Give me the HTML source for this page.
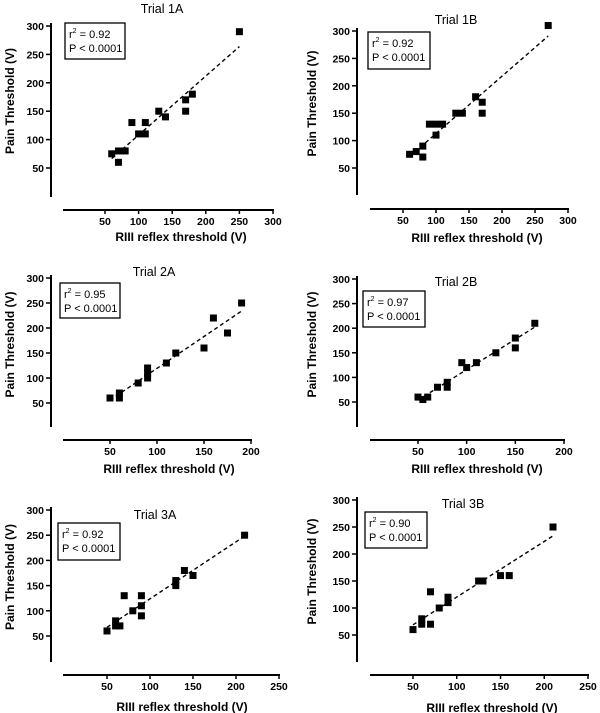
<!DOCTYPE html>
<html><head><meta charset="utf-8">
<style>
html,body{margin:0;padding:0;background:#fff;}
svg{display:block;font-family:"Liberation Sans",Arial,sans-serif;}
</style></head>
<body>
<svg id="fig" width="600" height="713" viewBox="0 0 600 713" xmlns="http://www.w3.org/2000/svg"></svg>
<script>
// ---- data ----
const names = ["Trial 1A","Trial 1B","Trial 2A","Trial 2B","Trial 3A","Trial 3B"];
const r2Labels = ["0.92","0.92","0.95","0.97","0.92","0.90"];
const xs1A = [60,70,70,80,90,100,110,110,130,140,170,170,180,250];
const ys1A = [75,80,60,80,130,110,110,130,150,140,170,150,180,290];
const xs1B = [60,70,80,80,90,100,110,100,130,140,160,170,170,270];
const ys1B = [75,80,70,90,130,130,130,110,150,150,180,170,150,310];
const xs2A = [50,60,60,80,90,90,90,110,120,150,160,175,190];
const ys2A = [60,60,70,90,100,110,120,130,150,160,220,190,250];
const xs2B = [50,55,60,70,80,80,95,100,110,130,150,150,170];
const ys2B = [60,55,60,80,80,90,130,120,130,150,180,160,210];
const xs3A = [50,60,60,65,70,80,90,90,90,130,130,140,150,210];
const ys3A = [60,80,70,70,130,100,110,130,90,150,160,180,170,250];
const xs3B = [50,60,60,70,70,80,90,90,125,130,150,160,210];
const ys3B = [60,80,70,130,70,100,110,120,150,150,160,160,250];
const xTicks1 = [50,100,150,200,250,300];
const xTicks2 = [50,100,150,200];
const xTicks3 = [50,100,150,200,250];
const yTicks = [50,100,150,200,250,300];

// ---- layout (pixels) ----
const L = [
 {ax:51, y50:168, y300:26, yBot:197, xAxY:210, xa0:63, xa1:273, xp50:105, xpMax:273, xMax:300, tx:162, ty:13, bx:65,by:23,bw:60,bh:36, xtx:181, xty:241, ylx:14, xs:xs1A, ys:ys1A, ticks:xTicks1},
 {ax:357, y50:168, y300:31, yBot:195, xAxY:209, xa0:370, xa1:568, xp50:403, xpMax:568, xMax:300, tx:456, ty:24, bx:368,by:32,bw:62,bh:37, xtx:477, xty:242, ylx:316, xs:xs1B, ys:ys1B, ticks:xTicks1},
 {ax:51, y50:403, y300:278, yBot:427, xAxY:440, xa0:63, xa1:251, xp50:110, xpMax:251, xMax:200, tx:154, ty:276, bx:60,by:283,bw:60,bh:35, xtx:169, xty:473, ylx:14, xs:xs2A, ys:ys2A, ticks:xTicks2},
 {ax:357, y50:402, y300:279, yBot:427, xAxY:440, xa0:370, xa1:564, xp50:418, xpMax:564, xMax:200, tx:456, ty:286, bx:363,by:291,bw:62,bh:36, xtx:477, xty:473, ylx:316, xs:xs2B, ys:ys2B, ticks:xTicks2},
 {ax:51, y50:636, y300:510, yBot:662, xAxY:675, xa0:63, xa1:279, xp50:107, xpMax:279, xMax:250, tx:155, ty:519, bx:58,by:523,bw:62,bh:37, xtx:182, xty:711, ylx:14, xs:xs3A, ys:ys3A, ticks:xTicks3},
 {ax:357, y50:635, y300:500, yBot:662, xAxY:675, xa0:370, xa1:588, xp50:413, xpMax:588, xMax:250, tx:463, ty:508, bx:365,by:512,bw:62,bh:36, xtx:492, xty:712, ylx:316, xs:xs3B, ys:ys3B, ticks:xTicks3}
];
const NS="http://www.w3.org/2000/svg";
const svg=document.getElementById('fig');
function mk(tag,attrs,parent){const e=document.createElementNS(NS,tag);for(const k in attrs)e.setAttribute(k,attrs[k]);(parent||svg).appendChild(e);return e;}

L.forEach((p,i)=>{
  const g=mk('g',{});
  
  
  const xS=v=>p.xp50+(v-50)*(p.xpMax-p.xp50)/(p.xMax-50);
  const yS=v=>p.y50+(v-50)*(p.y300-p.y50)/250;
  // title
  const t=mk('text',{x:p.tx,y:p.ty,'text-anchor':'middle','font-size':12.5},g);t.textContent=names[i];
  
  
  // y axis
  const ya=mk('line',{x1:p.ax,y1:p.y300-3,x2:p.ax,y2:p.yBot,stroke:'#000','stroke-width':2},g);
  
  
  yTicks.forEach(v=>{
    const y=yS(v);
    mk('line',{x1:p.ax-5,y1:y,x2:p.ax,y2:y,stroke:'#000','stroke-width':1.5},g);
    const tl=mk('text',{x:p.ax-7,y:y+4,'text-anchor':'end','font-size':10.5,'font-weight':'bold'},g);tl.textContent=v;
    
    
  });
  // x axis
  const xa=mk('line',{x1:p.xa0,y1:p.xAxY,x2:p.xa1+1,y2:p.xAxY,stroke:'#000','stroke-width':2},g);
  
  
  p.ticks.forEach(v=>{
    const x=xS(v);
    mk('line',{x1:x,y1:p.xAxY,x2:x,y2:p.xAxY+4,stroke:'#000','stroke-width':1.5},g);
    const tl=mk('text',{x:x,y:p.xAxY+15,'text-anchor':'middle','font-size':10.5,'font-weight':'bold'},g);tl.textContent=v;
    
    
  });
  // axis titles
  const xt=mk('text',{x:p.xtx,y:p.xty,'text-anchor':'middle','font-size':12,'font-weight':'bold'},g);xt.textContent='RIII reflex threshold (V)';
  
  
  const yc=(p.y50+p.y300)/2+4;
  const yt=mk('text',{x:p.ylx,y:yc,'text-anchor':'middle','font-size':12,'font-weight':'bold',transform:`rotate(-90 ${p.ylx} ${yc})`},g);yt.textContent='Pain Threshold (V)';
  
  
  // regression line
  const n=p.xs.length;let mx=0,my=0;p.xs.forEach((x,k)=>{mx+=x;my+=p.ys[k];});mx/=n;my/=n;
  let sxy=0,sxx=0;p.xs.forEach((x,k)=>{sxy+=(x-mx)*(p.ys[k]-my);sxx+=(x-mx)*(x-mx);});
  const b=sxy/sxx,a=my-b*mx;const x0=Math.min(...p.xs),x1=Math.max(...p.xs);
  const fl=mk('line',{x1:xS(x0),y1:yS(a+b*x0),x2:xS(x1),y2:yS(a+b*x1),stroke:'#000','stroke-width':1.4,'stroke-dasharray':'4,3'},g);
  
  
  // points
  p.xs.forEach((x,k)=>{
    const r=mk('rect',{x:xS(x)-3.5,y:yS(p.ys[k])-3.5,width:7,height:7,fill:'#000'},g);
    
    
  });
  // stats box
  const bg=mk('g',{},g);
  
  
  mk('rect',{x:p.bx,y:p.by,width:p.bw,height:p.bh,fill:'#fff',stroke:'#000','stroke-width':1.3},bg);
  const l1=mk('text',{x:p.bx+4,y:p.by+15,'font-size':11},bg);
  l1.innerHTML='r<tspan dy="-5" font-size="7">2</tspan><tspan dy="5"> = '+r2Labels[i]+'</tspan>';
  const l2=mk('text',{x:p.bx+4,y:p.by+29,'font-size':11},bg);l2.textContent='P < 0.0001';
});
</script>
</body></html>
